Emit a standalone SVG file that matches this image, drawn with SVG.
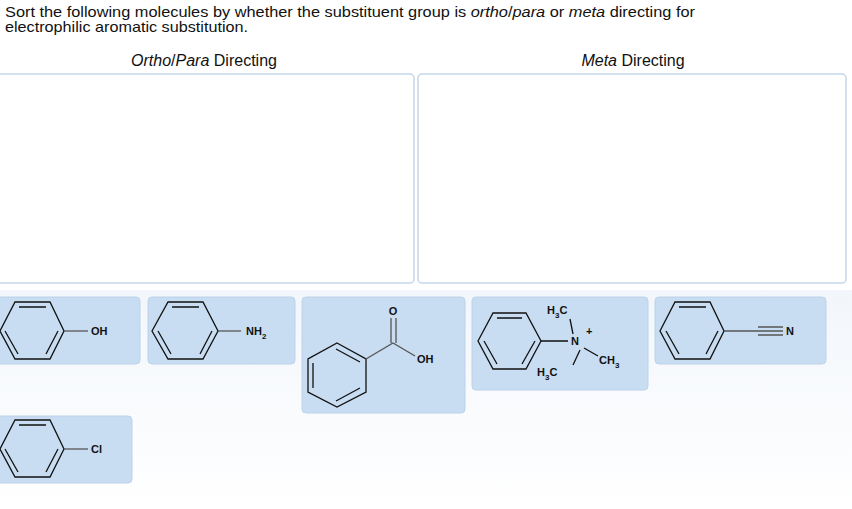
<svg xmlns="http://www.w3.org/2000/svg" width="852" height="509" viewBox="0 0 852 509">
<defs>
<linearGradient id="bg" x1="0" y1="0" x2="0" y2="1"><stop offset="0" stop-color="#f2f6fb"/><stop offset="1" stop-color="#ffffff"/></linearGradient>
<style>
.t{font-family:"Liberation Sans",Arial,sans-serif;font-size:15px;fill:#111}
.h{font-size:16px}
.zone{fill:#fff;stroke:#c5d6ea;stroke-width:1.5}
.card{fill:#c8ddf2;stroke:#bcd2ea;stroke-width:1}
.b{fill:none;stroke:#111;stroke-width:1.3}
.g{stroke:#555}
.l{font-family:"Liberation Sans",Arial,sans-serif;font-size:11px;font-weight:bold;fill:#111}
.s{font-size:8px}
</style>
</defs>
<rect width="852" height="509" fill="#fff"/>
<rect x="0" y="290" width="852" height="219" fill="url(#bg)"/>
<g id="header">
<text class="t" x="5" y="17" textLength="690" lengthAdjust="spacingAndGlyphs">Sort the following molecules by whether the substituent group is <tspan font-style="italic">ortho</tspan>/<tspan font-style="italic">para</tspan> or <tspan font-style="italic">meta</tspan> directing for</text>
<text class="t" x="5" y="32" textLength="243" lengthAdjust="spacingAndGlyphs">electrophilic aromatic substitution.</text>
<text class="t h" x="204" y="66" text-anchor="middle"><tspan font-style="italic">Ortho</tspan>/<tspan font-style="italic">Para</tspan> Directing</text>
<text class="t h" x="633" y="66" text-anchor="middle"><tspan font-style="italic">Meta</tspan> Directing</text>
</g>
<g id="zone-op"><rect class="zone" x="-4" y="74" width="418" height="209" rx="4"/></g>
<g id="zone-meta"><rect class="zone" x="418" y="74" width="428" height="209" rx="4"/></g>

<g id="phenol">
<rect class="card" x="-6" y="297" width="146" height="67" rx="4"/>
<path class="b" d="M0,331 L15,302 L50,302 L64,331 L50,359 L15,359 Z M19,307 L46,307 M5,331 L18,354 M58,331 L46,354"/>
<path class="b g" d="M64,331 L88,331"/>
<text class="l" x="91" y="335">OH</text>
</g>
<g id="aniline">
<rect class="card" x="148" y="297" width="147" height="67" rx="4"/>
<path class="b" d="M152,331 L168,302 L203,302 L218,331 L203,359 L168,359 Z M172,307 L199,307 M158,331 L171,354 M212,331 L200,354"/>
<path class="b g" d="M218,331 L241,331"/>
<text class="l" x="246" y="335">NH<tspan class="s" dy="4">2</tspan></text>
</g>
<g id="benzoic">
<rect class="card" x="302" y="297" width="163" height="116" rx="4"/>
<path class="b" d="M337,343 L366,359 L366,392 L337,407 L308,392 L308,359 Z M313,363 L313,388 M336,349 L360,362 M336,401 L360,388"/>
<path class="b g" d="M366,359 L393,343 L415,356 M391,343 L391,318 M396,343 L396,318"/>
<text class="l" x="393" y="315" text-anchor="middle">O</text>
<text class="l" x="417" y="363">OH</text>
</g>
<g id="anilinium">
<rect class="card" x="472" y="297" width="176" height="93" rx="4"/>
<path class="b" d="M478,341 L493,313 L526,313 L541,341 L526,369 L493,369 Z M497,318 L522,318 M484,341 L497,364 M535,341 L522,364"/>
<path class="b" d="M541,341 L568,341 M570,319 L573,334 M580,350 L573,365 M584,348 L598,356"/>
<text class="l" x="571" y="345">N</text>
<text class="l" x="586" y="335" font-size="8px">+</text>
<text class="l" x="547" y="314">H<tspan class="s" dy="4">3</tspan><tspan dy="-4">C</tspan></text>
<text class="l" x="537" y="376">H<tspan class="s" dy="4">3</tspan><tspan dy="-4">C</tspan></text>
<text class="l" x="599" y="364">CH<tspan class="s" dy="4">3</tspan></text>
</g>
<g id="benzonitrile">
<rect class="card" x="655" y="297" width="171" height="67" rx="4"/>
<path class="b" d="M660,331 L675,302 L710,302 L724,331 L710,359 L675,359 Z M679,307 L706,307 M666,331 L679,354 M718,331 L706,354"/>
<path class="b g" d="M724,331 L758,331 M758,327 L783,327 M758,331 L783,331 M758,335 L783,335"/>
<text class="l" x="786" y="335">N</text>
</g>
<g id="chlorobenzene">
<rect class="card" x="-6" y="416" width="138" height="67" rx="4"/>
<path class="b" d="M0,449 L15,420 L50,420 L64,449 L50,477 L15,477 Z M19,425 L46,425 M5,449 L18,472 M58,449 L46,472"/>
<path class="b g" d="M64,449 L88,449"/>
<text class="l" x="91" y="453">Cl</text>
</g>
<g id="connectors"></g>
</svg>
